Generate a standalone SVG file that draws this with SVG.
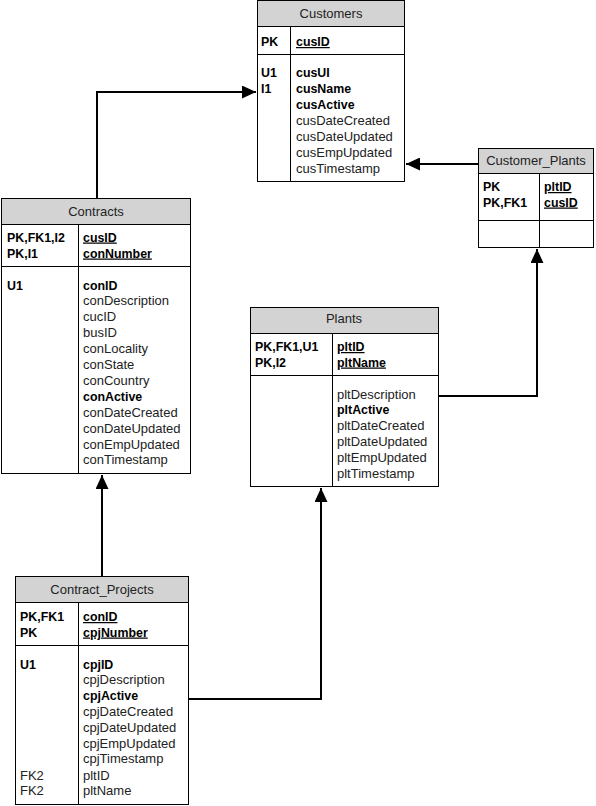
<svg xmlns="http://www.w3.org/2000/svg" width="596" height="806" viewBox="0 0 596 806">
<style>
text{font-family:"Liberation Sans",Arial,sans-serif;font-size:13px;fill:#222}
.b{font-weight:bold;fill:#000;font-size:12.4px}
.u{text-decoration:underline}
.t{text-anchor:middle;fill:#222}
.box{fill:#fff;stroke:#000;stroke-width:1}
.hd{fill:#d3d3d3;stroke:#000;stroke-width:1}
.ln{stroke:#000;stroke-width:1;fill:none}
.cn{stroke:#000;stroke-width:2;fill:none}
</style>
<defs>
<marker id="arr" markerUnits="userSpaceOnUse" markerWidth="15" markerHeight="13" refX="14" refY="6.5" orient="auto">
<path d="M0,0 L14,6.5 L0,13 z" fill="#000"/>
</marker>
</defs>
<rect width="596" height="806" fill="#fff"/>
<g id="connectors">
<polyline class="cn" points="97,198 97,92 256,92" marker-end="url(#arr)"/>
<polyline class="cn" points="478,164 406,164" marker-end="url(#arr)"/>
<polyline class="cn" points="439,396 537,396 537,249" marker-end="url(#arr)"/>
<polyline class="cn" points="102,576 102,475" marker-end="url(#arr)"/>
<polyline class="cn" points="189,699 321,699 321,488" marker-end="url(#arr)"/>
</g>
<g id="Customers">
<rect class="box" x="257.5" y="0.5" width="147" height="181"/>
<rect class="hd" x="257.5" y="0.5" width="147" height="26"/>
<line class="ln" x1="257.5" y1="54.5" x2="404.5" y2="54.5"/>
<line class="ln" x1="290.5" y1="26.5" x2="290.5" y2="181.5"/>
<text class="t" x="331" y="18">Customers</text>
<text class="b" x="261" y="46">PK</text>
<text class="b u" x="296" y="46">cusID</text>
<text class="b" x="261" y="77">U1</text>
<text class="b" x="261" y="93">I1</text>
<text class="b" x="296" y="77">cusUI</text>
<text class="b" x="296" y="93">cusName</text>
<text class="b" x="296" y="109">cusActive</text>
<text x="296" y="125">cusDateCreated</text>
<text x="296" y="141">cusDateUpdated</text>
<text x="296" y="157">cusEmpUpdated</text>
<text x="296" y="173">cusTimestamp</text>
</g>
<g id="Contracts">
<rect class="box" x="1.5" y="198.5" width="189" height="275"/>
<rect class="hd" x="1.5" y="198.5" width="189" height="26"/>
<line class="ln" x1="1.5" y1="266.5" x2="190.5" y2="266.5"/>
<line class="ln" x1="78.5" y1="224.5" x2="78.5" y2="473.5"/>
<text class="t" x="96" y="215.5">Contracts</text>
<text class="b" x="7" y="241.5">PK,FK1,I2</text>
<text class="b" x="7" y="257.5">PK,I1</text>
<text class="b u" x="83" y="241.5">cusID</text>
<text class="b u" x="83" y="257.5">conNumber</text>
<text class="b" x="7" y="289.5">U1</text>
<text class="b" x="83" y="289.5">conID</text>
<text x="83" y="305.4">conDescription</text>
<text x="83" y="321.3">cucID</text>
<text x="83" y="337.2">busID</text>
<text x="83" y="353.1">conLocality</text>
<text x="83" y="369">conState</text>
<text x="83" y="384.9">conCountry</text>
<text class="b" x="83" y="400.8">conActive</text>
<text x="83" y="416.7">conDateCreated</text>
<text x="83" y="432.6">conDateUpdated</text>
<text x="83" y="448.5">conEmpUpdated</text>
<text x="83" y="464.4">conTimestamp</text>
</g>
<g id="Customer_Plants">
<rect class="box" x="478.5" y="148.5" width="115" height="99"/>
<rect class="hd" x="478.5" y="148.5" width="115" height="25"/>
<line class="ln" x1="478.5" y1="220.5" x2="593.5" y2="220.5"/>
<line class="ln" x1="539.5" y1="173.5" x2="539.5" y2="247.5"/>
<text class="t" x="536" y="165">Customer_Plants</text>
<text class="b" x="483" y="191">PK</text>
<text class="b" x="483" y="206.5">PK,FK1</text>
<text class="b u" x="544" y="191">pltID</text>
<text class="b u" x="544" y="206.5">cusID</text>
</g>
<g id="Plants">
<rect class="box" x="250.5" y="307.5" width="188" height="179"/>
<rect class="hd" x="250.5" y="307.5" width="188" height="26"/>
<line class="ln" x1="250.5" y1="375.5" x2="438.5" y2="375.5"/>
<line class="ln" x1="332.5" y1="333.5" x2="332.5" y2="486.5"/>
<text class="t" x="344" y="323">Plants</text>
<text class="b" x="255" y="351">PK,FK1,U1</text>
<text class="b" x="255" y="366.5">PK,I2</text>
<text class="b u" x="337" y="351">pltID</text>
<text class="b u" x="337" y="366.5">pltName</text>
<text x="337" y="398.5">pltDescription</text>
<text class="b" x="337" y="414.4">pltActive</text>
<text x="337" y="430.3">pltDateCreated</text>
<text x="337" y="446.2">pltDateUpdated</text>
<text x="337" y="462.1">pltEmpUpdated</text>
<text x="337" y="478">pltTimestamp</text>
</g>
<g id="Contract_Projects">
<rect class="box" x="15.5" y="576.5" width="173" height="228"/>
<rect class="hd" x="15.5" y="576.5" width="173" height="26"/>
<line class="ln" x1="15.5" y1="645.5" x2="188.5" y2="645.5"/>
<line class="ln" x1="78.5" y1="602.5" x2="78.5" y2="804.5"/>
<text class="t" x="102" y="593.5">Contract_Projects</text>
<text class="b" x="20" y="621">PK,FK1</text>
<text class="b" x="20" y="636.5">PK</text>
<text class="b u" x="83" y="621">conID</text>
<text class="b u" x="83" y="636.5">cpjNumber</text>
<text class="b" x="20" y="668.5">U1</text>
<text class="b" x="83" y="668.5">cpjID</text>
<text x="83" y="684.3">cpjDescription</text>
<text class="b" x="83" y="700.1">cpjActive</text>
<text x="83" y="715.9">cpjDateCreated</text>
<text x="83" y="731.7">cpjDateUpdated</text>
<text x="83" y="747.5">cpjEmpUpdated</text>
<text x="83" y="763.3">cpjTimestamp</text>
<text x="20" y="779.5">FK2</text>
<text x="83" y="779.5">pltID</text>
<text x="20" y="795.3">FK2</text>
<text x="83" y="795.3">pltName</text>
</g>
</svg>
